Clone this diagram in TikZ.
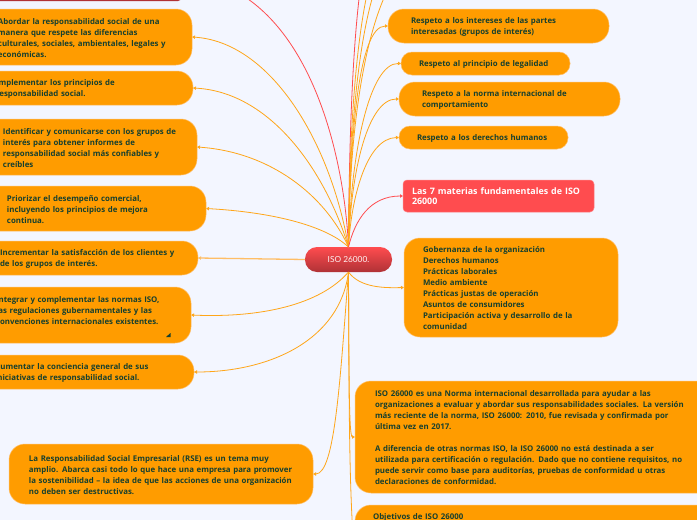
\documentclass[tikz,border=0pt]{standalone}
\usepackage{fontspec}
\setmainfont{Open Sans}[BoldFont={Open Sans Bold}]
\newfontfamily\hubfont{Lato}
\usetikzlibrary{arrows.meta}
\definecolor{bgc}{HTML}{F3F6FF}
\definecolor{orangec}{HTML}{FF9C00}
\definecolor{edgec}{HTML}{FFBE66}
\definecolor{redc}{HTML}{FF4C4F}
\definecolor{darkredc}{HTML}{B03236}
\definecolor{inkc}{HTML}{17402F}
\tikzset{
  x=1pt,y=-1pt,
  boxbase/.style={inner sep=0pt,outer sep=0pt,align=left,anchor=center},
  orangebox/.style={boxbase,fill=orangec,draw=edgec,line width=.5pt,rounded corners=16pt,text=inkc,
    font=\fontsize{7.85}{11}\selectfont\bfseries},
  slimbox/.style={orangebox,rounded corners=11pt},
  redbox/.style={boxbase,fill=redc,draw=redc!70!white,line width=.5pt,rounded corners=4pt,text=white,
    font=\fontsize{8.9}{9.2}\selectfont\bfseries},
  hubbox/.style={inner sep=0pt,outer sep=0pt,rounded corners=12pt,minimum width=87pt,minimum height=25pt,
    top color=redc,bottom color=darkredc,draw=none,text=white!92!redc,font=\hubfont\fontsize{8.3}{10}\selectfont},
  link/.style={draw=orangec!90!white,line width=.8pt,-{Latex[length=3pt,width=4pt]}},
  linkplain/.style={draw=orangec!90!white,line width=.8pt},
  thicklink/.style={link,draw=edgec,line width=1.3pt},
  redlink/.style={draw=redc,line width=.8pt,-{Latex[length=3pt,width=4pt]}},
  redplain/.style={draw=redc,line width=.8pt},
}
\newcommand{\mmbox}[8][]{%
  \pgfmathsetmacro{\mmcx}{(#3+#5)/2}%
  \pgfmathsetmacro{\mmcy}{(#4+#6)/2}%
  \pgfmathsetmacro{\mmw}{#5-#3}%
  \pgfmathsetmacro{\mmh}{#6-#4}%
  \pgfmathsetmacro{\mml}{#7-#3}%
  \node[#1,text width=\mmw pt,minimum height=\mmh pt] (#2) at (\mmcx,\mmcy) {\leftskip=\mml pt\relax\rule{0pt}{7.2pt}#8\par};%
}
\begin{document}
\begin{tikzpicture}
\useasboundingbox (0,0) rectangle (697,520);
\clip (0,0) rectangle (697,520);
\fill[bgc] (0,0) rectangle (697,520);

% off-canvas node at the top edge
\node[boxbase,fill=darkredc,rounded corners=4pt,minimum width=222pt,minimum height=41pt] (topbar) at (71,-19.5) {};

% left side
\mmbox[orangebox]{la}{-40}{9}{192}{65}{-2}{Abordar la responsabilidad social de una\\manera que respete las diferencias\\culturales, sociales, ambientales, legales y\\económicas.}
\mmbox[orangebox]{lb}{-40}{71}{193}{105}{-4}{Implementar los principios de\\responsabilidad social.}
\mmbox[orangebox]{lc}{-40}{119}{197}{175}{3}{Identificar y comunicarse con los grupos de\\interés para obtener informes de\\responsabilidad social más confiables y\\creíbles}
\mmbox[orangebox]{ld}{-40}{186}{206}{231}{7}{Priorizar el desempeño comercial,\\incluyendo los principios de mejora\\continua.}
\mmbox[orangebox]{le}{-40}{241}{198}{275}{0}{Incrementar la satisfacción de los clientes y\\de los grupos de interés.}
\mmbox[orangebox]{lf}{-40}{287}{191}{343}{-4}{Integrar y complementar las normas ISO,\\las regulaciones gubernamentales y las\\convenciones internacionales existentes.\\\mbox{}}
\mmbox[orangebox]{lg}{-40}{355}{194}{389}{-5}{Aumentar la conciencia general de sus\\iniciativas de responsabilidad social.}
\mmbox[orangebox]{lh}{9}{444}{313}{504}{29}{La Responsabilidad Social Empresarial (RSE) es un tema muy\\amplio. Abarca casi todo lo que hace una empresa para promover\\la sostenibilidad -- la idea de que las acciones de una organización\\no deben ser destructivas.}
\fill[inkc] (166,337) -- (170.5,337) -- (170.5,333) -- cycle;

% centre
\node[hubbox] (hub) at (348.5,259.5) {ISO 26000.};

% right side
\mmbox[orangebox]{ra}{388}{9}{609}{43}{411}{Respeto a los intereses de las partes\\interesadas (grupos de interés)}
\mmbox[slimbox]{rb}{401}{52}{570}{75}{419}{Respeto al principio de legalidad}
\mmbox[orangebox]{rc}{399}{82}{620}{116}{422}{Respeto a la norma internacional de\\comportamiento}
\mmbox[slimbox]{rd}{399}{126}{568}{149}{417}{Respeto a los derechos humanos}
\mmbox[redbox]{rr}{403}{180}{594}{212}{412}{Las 7 materias fundamentales de ISO\\26000}
\mmbox[orangebox]{re}{404}{238}{618}{337}{423}{Gobernanza de la organización\\Derechos humanos\\Prácticas laborales\\Medio ambiente\\Prácticas justas de operación\\Asuntos de consumidores\\Participación activa y desarrollo de la\\comunidad}
\mmbox[orangebox]{rf}{355}{381}{720}{493}{375}{ISO 26000 es una Norma internacional desarrollada para ayudar a las\\organizaciones a evaluar y abordar sus responsabilidades sociales. La versión\\más reciente de la norma, ISO 26000: 2010, fue revisada y confirmada por\\última vez en 2017.\\\mbox{}\\A diferencia de otras normas ISO, la ISO 26000 no está destinada a ser\\utilizada para certificación o regulación. Dado que no contiene requisitos, no\\puede servir como base para auditorías, pruebas de conformidad u otras\\declaraciones de conformidad.}
\node[orangebox,anchor=north west,minimum width=365pt,minimum height=110pt,text width=365pt] (rg) at (355,505) {\leftskip=18pt\relax Objetivos de ISO 26000\par\vspace*{86pt}};

% free ends above the picture
\coordinate (upred) at (359,-1);
\coordinate (upa) at (366,-1);
\coordinate (upb) at (372,-1);
\coordinate (upc) at (383.5,-1);
\coordinate (upleft) at (248,-1);

% connectors
\draw[redplain] (hub.north) .. controls (345,170) and (320,50) .. (upleft);
\draw[redplain] (hub.north) .. controls (349,150) and (352,60) .. (upred);
\draw[linkplain] (hub.north) .. controls (349,150) and (354,60) .. (upa);
\draw[linkplain] (hub.north) .. controls (349,160) and (355,60) .. (upb);
\draw[linkplain] (hub.north) .. controls (349,160) and (358,60) .. (upc);

\draw[link] (hub.north) .. controls (330,140) and (270,42) .. (la.east);
\draw[link] (hub.north) .. controls (325,170) and (270,92) .. (lb.east);
\draw[link] (hub.north) .. controls (325,195) and (270,152) .. (lc.east);
\draw[link] (hub.north) .. controls (325,225) and (270,212) .. (ld.east);
\draw[thicklink] (hub.west) -- (le.east);
\draw[link] (hub.south) .. controls (320,305) and (260,318) .. (lf.east);
\draw[link] (hub.south) .. controls (340,340) and (270,372) .. (lg.east);
\draw[link] (hub.south) .. controls (340,380) and (335,474) .. (lh.east);

\draw[link] (hub.north) .. controls (350,140) and (358,26) .. (ra.west);
\draw[link] (hub.north) .. controls (351,150) and (370,63) .. (rb.west);
\draw[link] (hub.north) .. controls (351,170) and (368,99) .. (rc.west);
\draw[link] (hub.north) .. controls (351,200) and (366,138) .. (rd.west);
\draw[redlink] (hub.north) .. controls (355,220) and (370,196) .. (rr.west);
\draw[link] (hub.south) .. controls (360,288) and (385,288) .. (re.west);
\draw[link] (hub.south) .. controls (349,380) and (349,437) .. (rf.west);
\draw[linkplain] (hub.south) .. controls (349,400) and (349,500) .. (rg.west);
\end{tikzpicture}
\end{document}
